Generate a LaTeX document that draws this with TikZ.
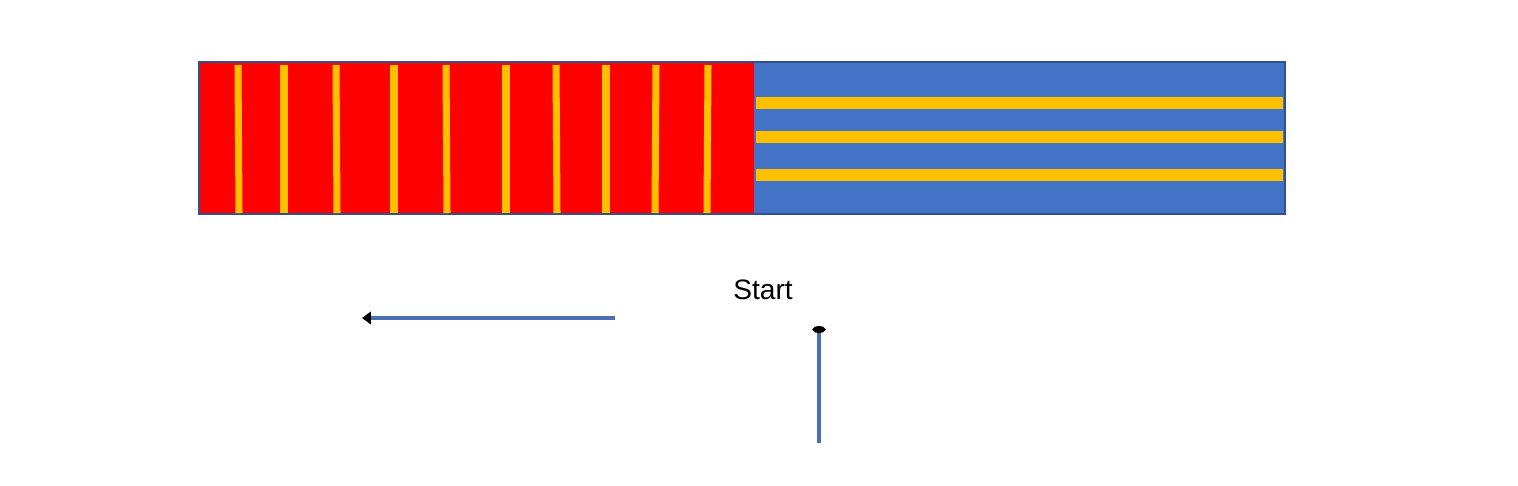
\documentclass[tikz,border=0pt]{standalone}
\usepackage{fontspec}
\setmainfont{Liberation Sans}
\usetikzlibrary{arrows.meta}

\definecolor{trackred}{HTML}{FF0000}
\definecolor{trackblue}{HTML}{4472C4}
\definecolor{trackedge}{HTML}{2F528F}
\definecolor{stripe}{HTML}{FFC000}
\definecolor{pathblue}{HTML}{4A6FB5}

\begin{document}
\begin{tikzpicture}[x=0.02cm, y=-0.02cm]
    % Frame of the picture
    \useasboundingbox (0,0) rectangle (1518,485);
    % Corners of the two halves
    \coordinate (A) at (199,62);
    \coordinate (M) at (754,214);
    \coordinate (N) at (754,62);
    \coordinate (B) at (1285,214);
    % Draw red half and blue half
    \fill[trackred] (A) rectangle (M);
    \fill[trackblue] (N) rectangle (B);
    \draw[trackedge, line width=1pt] (A) rectangle (B);

    % vertical stripes on the red half
    \foreach \x/\d in {238/1, 284/0, 336/1, 394/0, 446/1, 506/0, 556/1, 606/0, 656/-1, 708/-1}
        \draw[stripe, line width=4pt] (\x,65) -- (\x+\d,213);

    % horizontal stripes on the blue half
    \foreach \y in {103, 137, 175}
        \draw[stripe, line width=7pt] (756,\y) -- (1283,\y);

    % start label and paths
    \node (S) at (763,290) {\fontsize{16}{19}\selectfont Start};
    \coordinate (P) at (615,318);
    \coordinate (Q) at (362,318);
    \draw[pathblue, line width=2.3pt, -{Triangle[length=5pt, width=7pt, color=black]}] (P) -- (Q);
    \coordinate (U) at (819,443);
    \coordinate (V) at (819,326);
    \draw[pathblue, line width=2pt, -{Ellipse[length=4pt, width=7pt, color=black]}] (U) -- (V);
\end{tikzpicture}
\end{document}
